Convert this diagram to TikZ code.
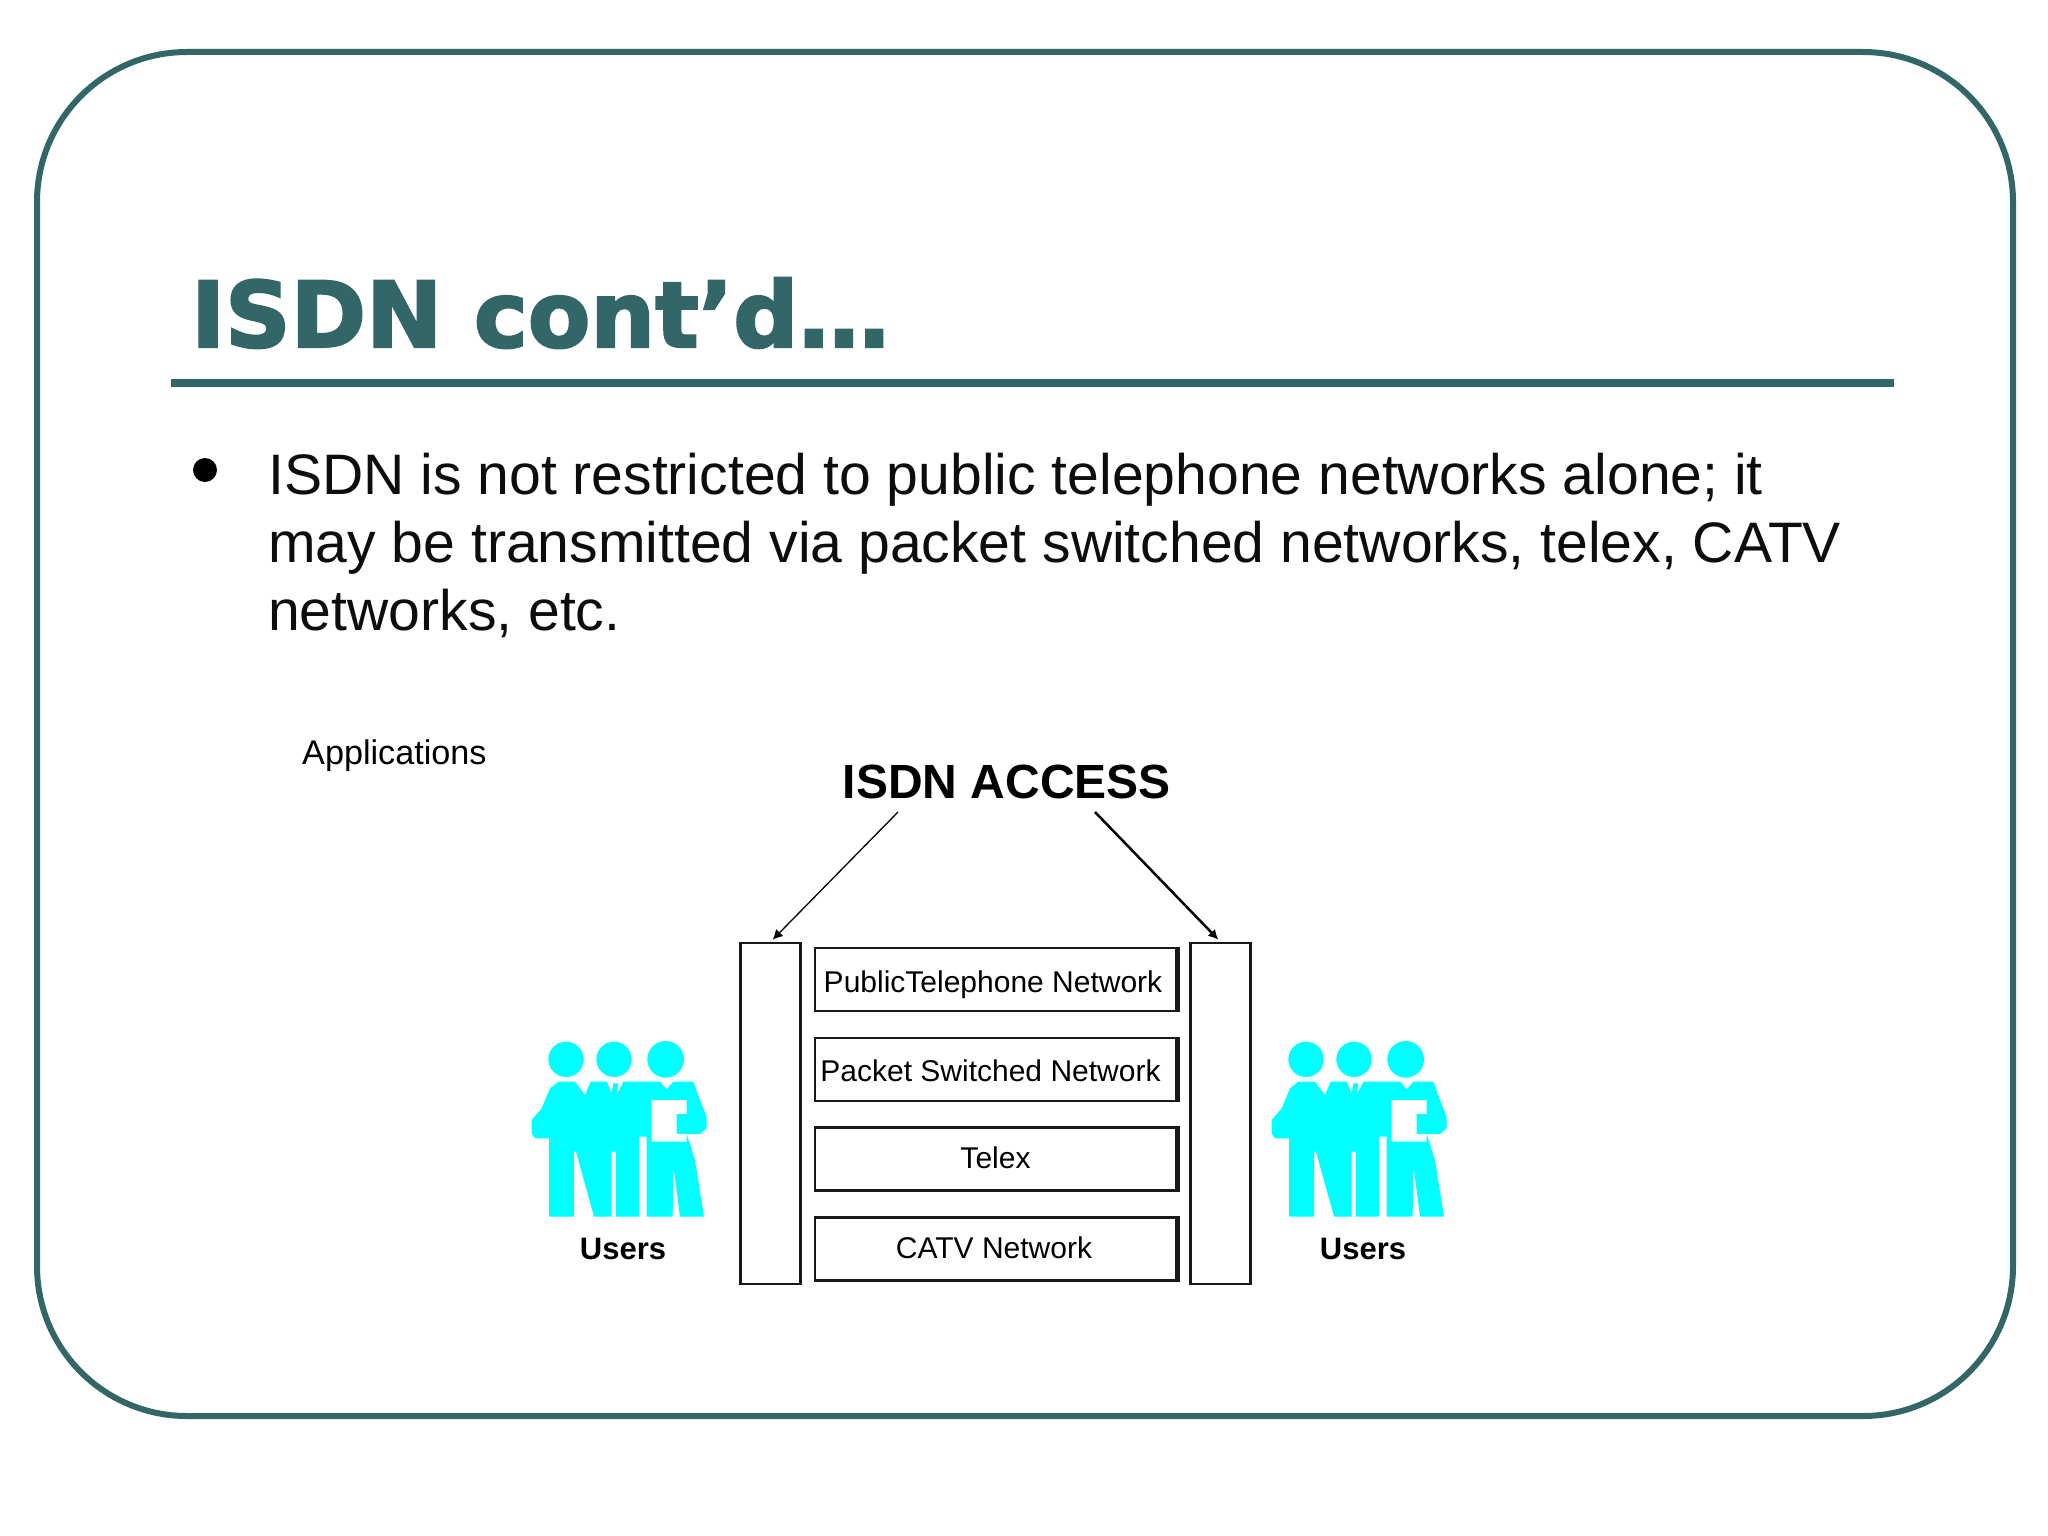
\documentclass[tikz,border=0pt]{standalone}
\usepackage{fontspec}
\setmainfont{Liberation Sans}
\newfontfamily\titlefont[FakeBold=2.5]{DejaVu Sans Bold}
\usetikzlibrary{arrows.meta}
\definecolor{teal1}{HTML}{336666}
\definecolor{cyan1}{HTML}{00FFFF}
\tikzset{
  frame/.style={draw=teal1,line width=6pt,rounded corners=150pt},
  rulebar/.style={draw=teal1,line width=8pt},
  bodytext/.style={anchor=base west,inner sep=0pt,font=\fontsize{57.1}{68}\selectfont,text=black!95},
  netbox/.style={draw=black!90,line width=2.5pt,minimum width=361pt,minimum height=63pt,inner sep=0pt,fill=white,font=\fontsize{30}{32}\selectfont,text depth=0pt},
  bar/.style={draw=black!90,line width=2.2pt,minimum width=60pt,minimum height=341pt,inner sep=0pt},
  userlabel/.style={inner sep=0pt,font=\bfseries\fontsize{31}{34}\selectfont},
  thickedge/.style={draw=black!90,line width=5pt,shift={(-1.2pt,0pt)}},
  accessarrow/.style={draw=black,-{Latex[length=10pt,width=10pt]}},
}
\newcommand{\usergroup}[2]{%
  \begin{scope}[shift={(#1,#2)},x=0.3333pt,y=-0.3333pt]
    \fill[cyan1] (198,178) circle[radius=53];
    \fill[cyan1] (342,178) circle[radius=53];
    \fill[cyan1] (497,178) circle[radius=55];
    \fill[cyan1] (175,245)--(225,245)--(255,285)--(272,245)--(320,245)--(335,280)--(340,250)--(355,250)--(350,285)--(370,245)--(480,245)--(500,268)--(520,245)--(580,245)--(600,300)--(620,350)--(620,385)--(600,402)--(560,402)--(585,480)--(612,650)--(540,650)--(520,495)--(518,650)--(440,650)--(440,410)--(418,410)--(418,650)--(348,650)--(348,455)--(335,455)--(335,650)--(282,650)--(228,455)--(222,455)--(222,650)--(147,650)--(147,415)--(105,415)--(95,400)--(95,360)--(125,325)--(150,265)--cycle;
    \fill[white] (455,300)--(560,300)--(560,342)--(530,342)--(530,402)--(560,402)--(560,425)--(455,425)--cycle;
  \end{scope}}
\begin{document}
\begin{tikzpicture}[x=1pt,y=-1pt]
\useasboundingbox (0,0) rectangle (2048,1536);
\fill[white] (0,0) rectangle (2048,1536);
\path[frame] (37,52) rectangle (2013,1416);
\node[anchor=base west,inner sep=0pt,text=teal1,font=\titlefont\fontsize{91}{96}\selectfont] (title) at (191,347) {ISDN cont’d…};
\draw[rulebar] (171,383) -- (1894,383);
\fill[black] (205,470) circle[radius=12];
\node[bodytext] (l1) at (268,494) {ISDN is not restricted to public telephone networks alone; it};
\node[bodytext] (l2) at (268,562) {may be transmitted via packet switched networks, telex, CATV};
\node[bodytext] (l3) at (268,630) {networks, etc.};
\node[anchor=base west,inner sep=0pt,font=\fontsize{34.2}{40}\selectfont] (apps) at (302,764) {Applications};
\node[inner sep=0pt,font=\bfseries\fontsize{48}{50}\selectfont] (access) at (1007,782) {ISDN ACCESS};
\node[bar] (lb) at (770.5,1113.5) {};
\node[bar] (rb) at (1220.5,1113.5) {};
\node[netbox,text height=25pt] (n1) at (995.5,979.5) {\kern-5pt PublicTelephone Network};
\node[netbox,text height=23pt] (n2) at (995.5,1069.5) {\kern-10pt Packet Switched Network};
\node[netbox,text height=18pt] (n3) at (995.5,1159) {Telex};
\node[netbox,text height=18pt] (n4) at (995.5,1249) {\kern-3pt CATV Network};
\foreach \n in {n1,n2,n3,n4}{\draw[thickedge] (\n.north east) -- (\n.south east);}
\coordinate (al) at (898,812);
\coordinate (ar) at (1095,812);
\draw[accessarrow,line width=1.3pt,shorten >=3pt] (al) -- (lb.north);
\draw[accessarrow,line width=2.5pt,shorten >=3pt] (ar) -- (rb.north);
\usergroup{500}{1000}
\usergroup{1240}{1000}
\node[userlabel] (u1) at (623,1249) {Users};
\node[userlabel] (u2) at (1363,1249) {Users};
\end{tikzpicture}
\end{document}
